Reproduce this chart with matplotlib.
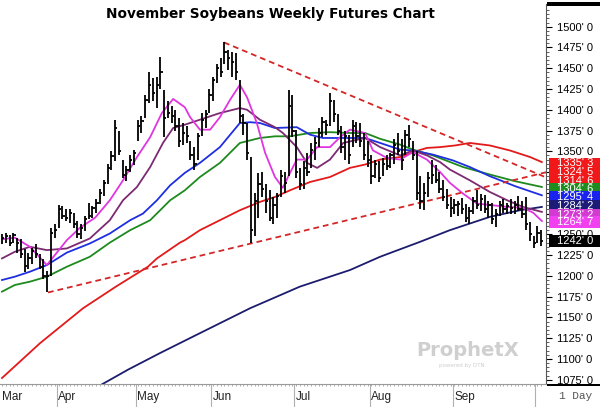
import matplotlib
matplotlib.use("Agg")
import matplotlib.pyplot as plt
from matplotlib.patches import Rectangle
import matplotlib.transforms as mtrans

# ---------------- data ----------------
highs = [1250, 1251, 1249, 1252, 1246, 1244, 1232, 1228, 1234, 1238,
         1226, 1220, 1206, 1258, 1262, 1285, 1284, 1281, 1280, 1276,
         1266, 1262, 1272, 1288, 1284, 1292, 1305, 1316, 1335, 1350,
         1388, 1375, 1340, 1332, 1345, 1352, 1388, 1392, 1418, 1445,
         1438, 1440, 1463, 1424, 1410, 1405, 1400, 1390, 1384, 1380,
         1362, 1355, 1372, 1396, 1400, 1425, 1440, 1455, 1462, 1482,
         1472, 1470, 1468, 1436, 1395, 1384, 1343, 1300, 1324, 1325,
         1311, 1303, 1295, 1300, 1327, 1325, 1424, 1418, 1376, 1330,
         1338, 1348, 1360, 1367, 1378, 1391, 1388, 1420, 1412, 1395,
         1380, 1375, 1370, 1388, 1385, 1384, 1372, 1362, 1345, 1340,
         1338, 1342, 1345, 1348, 1365, 1372, 1365, 1376, 1382, 1362,
         1350, 1320, 1312, 1325, 1340, 1334, 1325, 1315, 1305, 1295,
         1292, 1290, 1294, 1286, 1283, 1295, 1303, 1298, 1297, 1290,
         1288, 1280, 1290, 1292, 1288, 1292, 1290, 1296, 1290, 1295,
         1265, 1248, 1260, 1255]
lows = [1238, 1240, 1236, 1239, 1228, 1222, 1205, 1208, 1214, 1222,
        1208, 1196, 1180, 1200, 1245, 1258, 1268, 1266, 1264, 1258,
        1246, 1244, 1254, 1268, 1270, 1276, 1286, 1296, 1310, 1328,
        1338, 1345, 1318, 1314, 1325, 1334, 1362, 1372, 1390, 1408,
        1410, 1402, 1425, 1367, 1390, 1384, 1375, 1355, 1358, 1360,
        1340, 1327, 1340, 1368, 1378, 1396, 1410, 1432, 1440, 1455,
        1448, 1440, 1436, 1384, 1370, 1340, 1240, 1248, 1270, 1295,
        1276, 1266, 1262, 1270, 1295, 1300, 1320, 1367, 1318, 1303,
        1305, 1320, 1330, 1340, 1355, 1367, 1370, 1380, 1385, 1370,
        1348, 1340, 1335, 1355, 1360, 1355, 1340, 1331, 1311, 1318,
        1313, 1320, 1328, 1330, 1335, 1345, 1327, 1345, 1355, 1340,
        1291, 1280, 1279, 1295, 1310, 1312, 1300, 1290, 1280, 1271,
        1275, 1272, 1275, 1265, 1262, 1275, 1280, 1278, 1276, 1270,
        1262, 1259, 1272, 1276, 1275, 1275, 1274, 1278, 1270, 1255,
        1242, 1234, 1240, 1236]
closes = [1245, 1248, 1240, 1249, 1240, 1226, 1212, 1222, 1230, 1226,
          1211, 1200, 1200, 1252, 1255, 1280, 1272, 1270, 1276, 1262,
          1250, 1258, 1268, 1272, 1282, 1288, 1300, 1312, 1330, 1344,
          1378, 1350, 1322, 1328, 1340, 1348, 1380, 1386, 1412, 1430,
          1420, 1430, 1445, 1390, 1396, 1392, 1380, 1362, 1372, 1368,
          1345, 1335, 1368, 1388, 1395, 1418, 1436, 1450, 1445, 1470,
          1462, 1458, 1445, 1392, 1384, 1348, 1255, 1290, 1310, 1305,
          1290, 1270, 1285, 1296, 1320, 1312, 1405, 1375, 1325, 1310,
          1330, 1325, 1352, 1360, 1372, 1385, 1382, 1410, 1395, 1375,
          1355, 1368, 1345, 1380, 1368, 1362, 1345, 1340, 1320, 1335,
          1318, 1335, 1332, 1345, 1358, 1350, 1340, 1370, 1365, 1345,
          1300, 1290, 1300, 1318, 1322, 1315, 1305, 1295, 1285, 1282,
          1285, 1286, 1280, 1270, 1278, 1290, 1285, 1292, 1280, 1285,
          1268, 1275, 1285, 1280, 1284, 1282, 1285, 1280, 1275, 1262,
          1250, 1240, 1252, 1242]

# moving averages (trading-day position, value)
ma_magenta_x = [0, 3.4, 7.4, 11.9, 17.2, 20.7, 24.7, 28.6, 32.1, 35.8,
                39.3, 42.4, 45.4, 48.5, 49.9, 52.5, 55.2, 57.8, 60.5, 63.1,
                65.0, 67.6, 69.8, 72.4, 74.5, 76.4, 78.2, 80.9, 83.6, 87.0,
                89.7, 92.3, 96.3, 98.4, 102.1, 105.6, 109.0, 112.7, 116.2, 118.8,
                122.3, 126.0, 130.2, 134.0, 138.2, 140.9, 143.2]
ma_magenta_y = [1244, 1246, 1235, 1213, 1243, 1258, 1270, 1291, 1315, 1343,
                1367, 1396, 1413, 1403, 1391, 1376, 1376, 1391, 1412, 1430,
                1415, 1384, 1348, 1319, 1306, 1324, 1340, 1340, 1355, 1355,
                1367, 1376, 1372, 1351, 1342, 1340, 1349, 1340, 1325, 1312,
                1299, 1287, 1285, 1283, 1282, 1276, 1266]
ma_purple_x = [0, 3.4, 7.4, 11.9, 17.2, 23.3, 28.6, 32.1, 35.8, 39.3,
               42.7, 45.4, 48.5, 52.5, 57.8, 63.1, 65.0, 68.4, 72.4, 74.5,
               78.2, 80.9, 83.6, 87.0, 90.5, 96.3, 100.3, 105.6, 109.0, 112.7,
               116.2, 118.8, 124.1, 129.4, 134.0, 138.2, 143.2]
ma_purple_y = [1221, 1229, 1235, 1231, 1233, 1245, 1267, 1291, 1307, 1331,
               1360, 1378, 1382, 1388, 1396, 1402, 1400, 1388, 1379, 1372,
               1355, 1336, 1330, 1340, 1360, 1366, 1355, 1345, 1351, 1345,
               1337, 1328, 1315, 1301, 1291, 1283, 1277]
ma_blue_x = [0, 3.4, 7.4, 11.9, 17.2, 23.3, 28.6, 34.0, 37.4, 41.1,
             44.6, 48.5, 52.5, 57.8, 63.1, 65.8, 68.4, 72.4, 78.2, 81.7,
             85.1, 90.5, 96.3, 100.3, 105.6, 109.0, 114.3, 119.6, 124.1, 129.4,
             136.1, 143.2]
ma_blue_y = [1195, 1199, 1205, 1213, 1228, 1239, 1251, 1267, 1275, 1291,
             1309, 1324, 1336, 1355, 1384, 1385, 1384, 1378, 1379, 1370,
             1366, 1366, 1366, 1360, 1352, 1351, 1346, 1339, 1331, 1320,
             1308, 1297]
ma_green_x = [0, 3.4, 7.4, 11.9, 17.2, 23.3, 28.6, 34.0, 39.3, 44.6,
              48.5, 52.5, 57.8, 63.1, 68.4, 72.4, 76.4, 81.7, 87.0, 92.3,
              96.3, 100.3, 105.6, 109.0, 114.3, 122.3, 129.4, 136.1, 143.2]
ma_green_y = [1181, 1189, 1193, 1199, 1211, 1223, 1240, 1255, 1267, 1291,
              1303, 1319, 1336, 1360, 1366, 1368, 1368, 1372, 1373, 1372,
              1372, 1365, 1358, 1352, 1345, 1331, 1322, 1314, 1307]
ma_red_x = [0, 10.1, 21.5, 30.2, 38.7, 41.1, 47.2, 48.5, 52.5, 57.8,
            63.1, 68.4, 72.4, 76.4, 81.7, 87.0, 92.3, 96.3, 100.3, 105.6,
            109.0, 112.7, 116.2, 120.2, 124.1, 129.4, 134.7, 140.1, 143.2]
ma_red_y = [1077, 1119, 1161, 1187, 1211, 1221, 1240, 1243, 1255, 1267,
            1279, 1289, 1295, 1303, 1313, 1319, 1330, 1334, 1340, 1343,
            1349, 1354, 1355, 1357, 1360, 1357, 1351, 1343, 1337]
ma_navy_x = [25.2, 33.4, 41.9, 52.5, 65.8, 79.0, 92.3, 100.3, 110.9, 118.8,
             129.4, 137.4, 143.2]
ma_navy_y = [1066, 1087, 1107, 1131, 1161, 1187, 1207, 1223, 1241, 1255,
             1271, 1279, 1283]

# trend lines (trading-day position, price)
trend_upper_x = [58.9, 144.6]
trend_upper_y = [1481, 1318]
trend_lower_x = [12.2, 144.6]
trend_lower_y = [1180, 1325]

# x-axis months (first trading day of month) and labels
month_labels = ["Mar", "Apr", "May", "Jun", "Jul", "Aug", "Sep"]
month_first_day = [15, 36, 56, 78, 98, 120, 142]

# price axis
y_ticks = list(range(1075, 1501, 25))

# right-edge value tags
tag_labels = ["1335' 3", "1324' 5", "1314' 6", "1304' 6", "1295' 4",
              "1284' 2", "1273' 2", "1264' 7", "1242' 0"]
tag_values = [1335.375, 1324.625, 1314.75, 1304.75, 1295.5,
              1284.25, 1273.25, 1264.875, 1242.0]
tag_colors = ["#f01818", "#f01818", "#f01818", "#1e8c1e", "#1a22f0",
              "#1c1c78", "#d23ad2", "#f040f0", "#000000"]

# ---------------- figure ----------------
W, H = 600, 407
fig = plt.figure(figsize=(W / 100, H / 100), dpi=100)
ax_right_px, ax_top_px, ax_bot_px = 546, 4, 384
ax = fig.add_axes([0, (H - ax_bot_px) / H, ax_right_px / W, (ax_bot_px - ax_top_px) / H])

ymin, ymax = 1069.8, 1527.3
ax.set_ylim(ymin, ymax)
ax.set_xlim(-0.53, 144.3)
px_per_unit = (ax_bot_px - ax_top_px) / (ymax - ymin)

days = list(range(len(highs)))
ax.vlines(days, lows, highs, color="black", lw=1.3, zorder=4)
ax.hlines(closes, [d for d in days], [d + 0.6 for d in days], color="black", lw=1.3, zorder=4)

lw = 1.3
ax.plot(ma_navy_x, ma_navy_y, color="#1c1c6e", lw=lw, zorder=3)
ax.plot(ma_red_x, ma_red_y, color="#e31a1a", lw=lw, zorder=3)
ax.plot(ma_green_x, ma_green_y, color="#1e8a1e", lw=lw, zorder=3)
ax.plot(ma_blue_x, ma_blue_y, color="#1f2fe0", lw=lw, zorder=3)
ax.plot(ma_purple_x, ma_purple_y, color="#7c2a72", lw=lw, zorder=3)
ax.plot(ma_magenta_x, ma_magenta_y, color="#e035e0", lw=lw, zorder=3)

ax.plot(trend_upper_x, trend_upper_y, color="#d42626", lw=1.3, dashes=(3.2, 2.2), zorder=3)
ax.plot(trend_lower_x, trend_lower_y, color="#d42626", lw=1.3, dashes=(3.2, 2.2), zorder=3)

# spines
for s in ["top", "left"]:
    ax.spines[s].set_visible(False)
ax.spines["right"].set_color("#555555")
ax.spines["right"].set_linewidth(0.8)
ax.spines["bottom"].set_color("#9a9a9a")
ax.spines["bottom"].set_linewidth(0.8)

# y axis on the right
ax.yaxis.tick_right()
ax.set_yticks(y_ticks)
ax.set_yticklabels([f"{v}' 0" for v in y_ticks])
ax.set_yticks([v for v in range(1070, 1526, 5) if v % 25], minor=True)
ax.tick_params(axis="y", which="major", direction="out", length=4, width=0.8,
               pad=4, labelsize=8, colors="black")
ax.tick_params(axis="y", which="minor", direction="out", length=2, width=0.6, colors="#444444")
for t in ax.get_yticklabels():
    t.set_family("Liberation Sans")

# x axis: month separators + day ticks
month_bounds = [d - 0.5 for d in month_first_day]
ax.set_xticks(month_bounds)
ax.set_xticklabels([])
ax.set_xticks(days, minor=True)
ax.tick_params(axis="x", which="major", direction="out", length=17, width=0.8, colors="#b0b0b0")
ax.tick_params(axis="x", which="minor", direction="out", length=1.5, width=0.6, colors="#a0a0a0")

xt = mtrans.blended_transform_factory(ax.transData, fig.transFigure)
label_pos = [-0.5] + month_bounds[:6]
for lab, xp in zip(month_labels, label_pos):
    ax.text(xp + 0.4, 1 - 397 / H, lab, transform=xt, ha="left", va="center",
            fontsize=8.5, family="Liberation Sans", color="#222222", clip_on=False)

# value tags on the right
bt = mtrans.blended_transform_factory(ax.transAxes, ax.transData)
box_h = 11.5 / px_per_unit
x0 = 549 / ax_right_px
for lab, val, col in zip(tag_labels, tag_values, tag_colors):
    ax.add_patch(Rectangle((x0, val - box_h / 2), (W - 549) / ax_right_px, box_h,
                           transform=bt, facecolor=col, edgecolor="none",
                           clip_on=False, zorder=10))
    ax.text(557 / ax_right_px, val, lab, transform=bt, color="white", fontsize=8,
            family="Liberation Sans", ha="left", va="center", zorder=11, clip_on=False)

# right panel decorations
fig.patches.append(Rectangle((547 / W, 1 - 6 / H), 53 / W, 3.5 / H, transform=fig.transFigure,
                             facecolor="black", edgecolor="none"))
fig.patches.append(Rectangle((547 / W, 1 - 386 / H), 53 / W, 2.5 / H, transform=fig.transFigure,
                             facecolor="black", edgecolor="none"))
fig.text(576 / W, 1 - 396 / H, "1 Day", ha="center", va="center", fontsize=8,
         family="Liberation Mono", color="#555555")

# title
fig.text(270 / W, 1 - 14 / H, "November Soybeans Weekly Futures Chart", ha="center", va="center",
         fontsize=9.8, fontweight="bold", family="DejaVu Sans", color="black")

# watermark
fig.text(468 / W, 1 - 350 / H, "ProphetX", ha="center", va="center", fontsize=14,
         fontweight="bold", color="#cfcfcf", family="DejaVu Sans")
fig.text(462 / W, 1 - 366 / H, "powered by DTN", ha="center", va="center", fontsize=4,
         color="#cfcfcf", family="DejaVu Sans")

fig.savefig("out.png", dpi=100)
